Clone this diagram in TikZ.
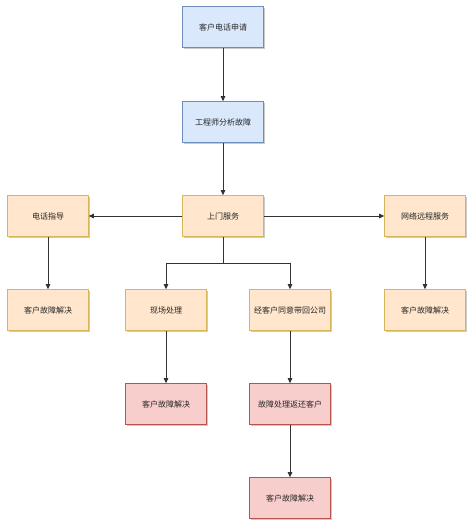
\documentclass[tikz,border=0pt]{standalone}
\usepackage{fontspec}
\newfontfamily\cjk{Noto Sans CJK SC}
\usetikzlibrary{arrows.meta,shadows}
\definecolor{bfill}{HTML}{DAE8FC}\definecolor{bline}{HTML}{6C8EBF}
\definecolor{ofill}{HTML}{FFE6CC}\definecolor{oline}{HTML}{D6B656}
\definecolor{rfill}{HTML}{F8CECC}\definecolor{rline}{HTML}{B85450}
\tikzset{
  boxbase/.style={rectangle, minimum width=81pt, minimum height=41pt, inner sep=1pt,
    font=\cjk\fontsize{8}{10}\selectfont, text=black!85, line width=0.6pt,
    drop shadow={shadow xshift=1.5pt, shadow yshift=-1.5pt, fill=black!35, opacity=0.6}},
  bluebox/.style={boxbase, fill=bfill, draw=bline},
  orangebox/.style={boxbase, fill=ofill, draw=oline},
  redbox/.style={boxbase, fill=rfill, draw=rline},
  conn/.style={draw=black!80, line width=0.6pt, -{Triangle[length=5pt,width=4.5pt]}},
  plainconn/.style={draw=black!80, line width=0.6pt}
}
\begin{document}
\begin{tikzpicture}[x=1pt,y=-1pt]
\useasboundingbox (0,0) rectangle (474,528);
\node[bluebox] (a) at (223,27) {客户电话申请};
\node[bluebox] (b) at (223,122) {工程师分析故障};
\node[orangebox] (c) at (223,216) {上门服务};
\node[orangebox] (d) at (48,216) {电话指导};
\node[orangebox] (e) at (425,216) {网络远程服务};
\node[orangebox] (f) at (48,310) {客户故障解决};
\node[orangebox] (g) at (166,310) {现场处理};
\node[orangebox] (h) at (290,310) {经客户同意带回公司};
\node[orangebox] (i) at (425,310) {客户故障解决};
\node[redbox] (j) at (166,404) {客户故障解决};
\node[redbox] (k) at (290,404) {故障处理返还客户};
\node[redbox] (l) at (290,498) {客户故障解决};
\coordinate (split) at (223,263);
\draw[conn] (a) -- (b);
\draw[conn] (b) -- (c);
\draw[conn] (c) -- (d);
\draw[conn] (c) -- (e);
\draw[conn] (d) -- (f);
\draw[conn] (e) -- (i);
\draw[plainconn] (c) -- (split);
\draw[conn] (split) -| (g);
\draw[conn] (split) -| (h);
\draw[conn] (g) -- (j);
\draw[conn] (h) -- (k);
\draw[conn] (k) -- (l);
\end{tikzpicture}
\end{document}
